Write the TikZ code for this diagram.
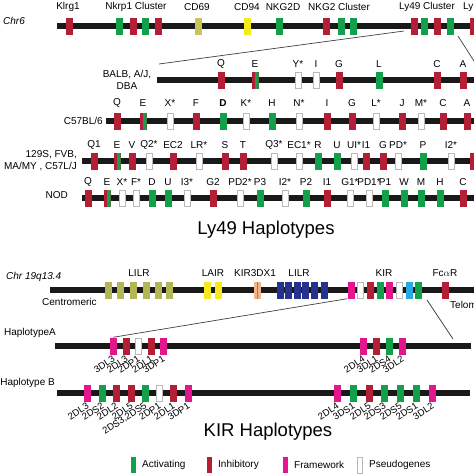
\documentclass[tikz,border=0pt]{standalone}
\usepackage{fontspec}
\setmainfont{Liberation Sans}
\usetikzlibrary{positioning}

\definecolor{inhred}{HTML}{B51F36}
\definecolor{actgreen}{HTML}{13A04B}
\definecolor{framemag}{HTML}{E3168B}
\definecolor{cdolive}{HTML}{C9C35C}
\definecolor{cdyellow}{HTML}{F4EA1E}
\definecolor{lilrolive}{HTML}{B3B656}
\definecolor{lilrblue}{HTML}{25338F}
\definecolor{kircyan}{HTML}{2AA8E0}
\definecolor{kirtan}{HTML}{F2B48C}

\begin{document}
\begin{tikzpicture}[x=1pt,y=-1pt,
  chrom/.style={line width=5.5pt,black!90},
  gene/.style={minimum width=7pt,minimum height=17pt,inner sep=0pt},
  inh/.style={fill=inhred},
  act/.style={fill=actgreen},
  frame/.style={fill=framemag},
  pseudo/.style={fill=white,draw=gray!55,line width=0.6pt,minimum width=6.4pt,minimum height=16.4pt},
  split/.style={fill=inhred,path picture={\fill[actgreen] (path picture bounding box.north) rectangle (path picture bounding box.south east);}},
  cdol/.style={fill=cdolive},
  cdyel/.style={fill=cdyellow},
  lilr/.style={fill=lilrolive},
  lilrb/.style={fill=lilrblue},
  cyan/.style={fill=kircyan},
  tan/.style={fill=kirtan,path picture={\fill[inhred!70] ([xshift=-0.4pt]path picture bounding box.north) rectangle ([xshift=0.4pt]path picture bounding box.south);}},
  lbl/.style={inner sep=0pt,font=\fontsize{10}{12}\selectfont},
  rlbl/.style={inner sep=0pt,anchor=east,rotate=33,font=\fontsize{9.5}{10}\selectfont},
  zoomline/.style={line width=0.7pt,black!75},
  title/.style={inner sep=0pt,font=\fontsize{18.5}{22}\selectfont}]
  \useasboundingbox (0,0) rectangle (474,474);
  \clip (0,0) rectangle (474,474);

  % Ly49 part
  \node[lbl,anchor=west,font=\fontsize{10}{12}\itshape] (chrsix) at (3,21) {Chr6};
  \draw[chrom] (57,26) -- (480,26);
  \foreach \x/\s in {69/inh,119/act,133/inh,145/act,158/inh,198/cdol,247/cdyel,279/act,
      326/inh,341/act,353/act,414/inh,424/act,437/inh,450/act,473/inh}
    \node[gene,\s] (cs\x) at (\x,26) {};
  \node[lbl] (klrg) at (68,7) {Klrg1};
  \node[lbl] (nkrp) at (136,7) {Nkrp1 Cluster};
  \node[lbl] (cdsn) at (197,7) {CD69};
  \node[lbl] (cdnf) at (247,7) {CD94};
  \node[lbl] (nkgd) at (283,7) {NKG2D};
  \node[lbl] (nkgc) at (339,7) {NKG2 Cluster};
  \node[lbl] (lyc) at (427,7) {Ly49 Cluster};
  \node[lbl,anchor=west] (lyb) at (463,7) {Ly};

  \coordinate (zla) at (404,31);
  \coordinate (zlb) at (159,64);
  \coordinate (zlc) at (458,36);
  \coordinate (zld) at (481,72);
  \draw[zoomline] (zla) -- (zlb);
  \draw[zoomline] (zlc) -- (zld);

  % BALB
  \node[lbl,align=center] (balb) at (127,80) {BALB, A/J,\\DBA};
  \draw[chrom] (157,80) -- (480,80);
  \foreach \x/\s/\t in {221/inh/Q,255/split/E,298/pseudo/Y*,316/pseudo/I,339/inh/G,
      379/act/L,437/inh/C,463/inh/A}{
    \node[gene,\s] (bg\x) at (\x,80) {};
    \node[lbl] (bt\x) at (\x,64) {\t};
  }

  % C57BL/6
  \node[lbl,anchor=east] (cbl) at (103,121) {C57BL/6};
  \draw[chrom] (106,121) -- (480,121);
  \foreach \x/\s/\t in {117/inh/Q,143/split/E,170/pseudo/X*,196/inh/F,223/act/{\textbf{D}},
      246/pseudo/K*,272/act/H,299/pseudo/N*,327/inh/I,352/inh/G,376/pseudo/L*,
      402/inh/J,421/pseudo/M*,443/inh/C,467/inh/A}{
    \node[gene,\s] (cg\x) at (\x,121) {};
    \node[lbl] (ct\x) at (\x,103) {\t};
  }

  % 129S
  \node[lbl,align=right,anchor=east] (oneb) at (77,161) {129S, FVB,\\MA/MY , C57L/J};
  \draw[chrom] (82,161) -- (480,161);
  \foreach \x/\s/\t in {94/inh/Q1,117/split/E,132/inh/V,149/pseudo/Q2*,173/inh/EC2,
      199/pseudo/LR*,225/inh/S,243/inh/T,274/pseudo/Q3*,299/pseudo/EC1*,318/act/R,
      337/act/U,354/pseudo/UI*,366/inh/I1,383/inh/G,398/pseudo/PD*,423/act/P,
      451/pseudo/I2*,473/inh/{}}{
    \node[gene,\s] (sg\x) at (\x,161) {};
    \node[lbl] (st\x) at (\x,145) {\t};
  }

  % NOD
  \node[lbl,anchor=east] (nod) at (68,195) {NOD};
  \draw[chrom] (82,198) -- (480,198);
  \foreach \x/\s/\t in {88/inh/Q,107/split/E,122/pseudo/X*,136/pseudo/F*,152/act/D,
      168/act/U,187/pseudo/I3*,213/inh/G2,240/pseudo/PD2*,260/act/P3,285/pseudo/I2*,
      306/act/P2,327/inh/I1,350/pseudo/G1*,369/pseudo/PD1*,385/act/P1,404/act/W,
      421/act/M,440/act/H,463/inh/C}{
    \node[gene,\s] (ng\x) at (\x,198) {};
    \node[lbl] (nt\x) at (\x,182) {\t};
  }

  \node[title] (lytitle) at (266,230) {Ly49 Haplotypes};

  % KIR part
  \node[lbl,anchor=west,font=\fontsize{10}{12}\itshape] (chrnt) at (6,277) {Chr 19q13.4};
  \node[lbl,anchor=west] (centro) at (42,302) {Centromeric};
  \node[lbl,anchor=west] (telo) at (450,305) {Telomeric};
  \draw[chrom] (50,290) -- (480,290);
  \foreach \x/\s in {108/lilr,120/lilr,133/lilr,146/lilr,158/lilr,169/lilr,207/cdyel,218/cdyel,
      257/tan,280/lilrb,288/lilrb,297/lilrb,305/lilrb,314/lilrb,324/lilrb,
      351/frame,360/pseudo,370/inh,380/act,389/frame,399/pseudo,409/cyan,418/act,445/inh}
    \node[gene,\s] (kg\x) at (\x,290) {};
  \node[lbl] (lilra) at (139,273) {LILR};
  \node[lbl] (lair) at (213,273) {LAIR};
  \node[lbl] (kirx) at (255,273) {KIR3DX1};
  \node[lbl] (lilrbl) at (299,273) {LILR};
  \node[lbl] (kirl) at (384,273) {KIR};
  \node[lbl] (fcar) at (445,273) {Fc$\alpha$R};

  % Haplotype A
  \node[lbl,anchor=east] (hapa) at (56,333) {HaplotypeA};
  \draw[chrom] (55,346) -- (471,346);
  \foreach \x/\s/\t in {113/frame/3DL3,126/inh/2DL3,138/pseudo/2DP1,151/inh/2DL1,163/frame/3DP1,
      363/frame/2DL4,376/inh/3DL1,389/act/2DS4,402/frame/3DL2}{
    \node[gene,\s] (ag\x) at (\x,346) {};
    \node[rlbl] (at\x) at (\x+1,358) {\t};
  }
  \coordinate (zle) at (427,300);
  \coordinate (zlf) at (453,339);
  \draw[zoomline] (kg351.south west) -- (ag113.north);
  \draw[zoomline] (zle) -- (zlf);

  % Haplotype B
  \node[lbl,anchor=east] (hapb) at (55,383) {Haplotype B};
  \draw[chrom] (57,393) -- (470,393);
  \foreach \x/\s/\t in {87/frame/2DL3,102/act/2DS2,116/inh/2DL2,131/inh/2DL5,145/act/{2DS3,2DS5},
      159/pseudo/2DP1,173/inh/2DL1,188/frame/3DP1,337/frame/2DL4,353/act/3DS1,369/inh/2DL5,
      384/act/2DS3,400/act/2DS5,416/act/2DS1,432/frame/3DL2}{
    \node[gene,\s] (hg\x) at (\x,393) {};
    \node[rlbl] (ht\x) at (\x+1,405) {\t};
  }

  \node[title] (kirtitle) at (268,432) {KIR Haplotypes};

  % legend
  \foreach \x/\s/\t/\n in {133/act/Activating/la,209/inh/Inhibitory/lb,285/frame/Framework/lc,360/pseudo/Pseudogenes/ld}{
    \node[gene,\s,minimum width=5pt,minimum height=16pt] (\n box) at (\x,465) {};
    \node[lbl,anchor=west] (\n txt) at (\x+9,465) {\t};
  }
\end{tikzpicture}
\end{document}
